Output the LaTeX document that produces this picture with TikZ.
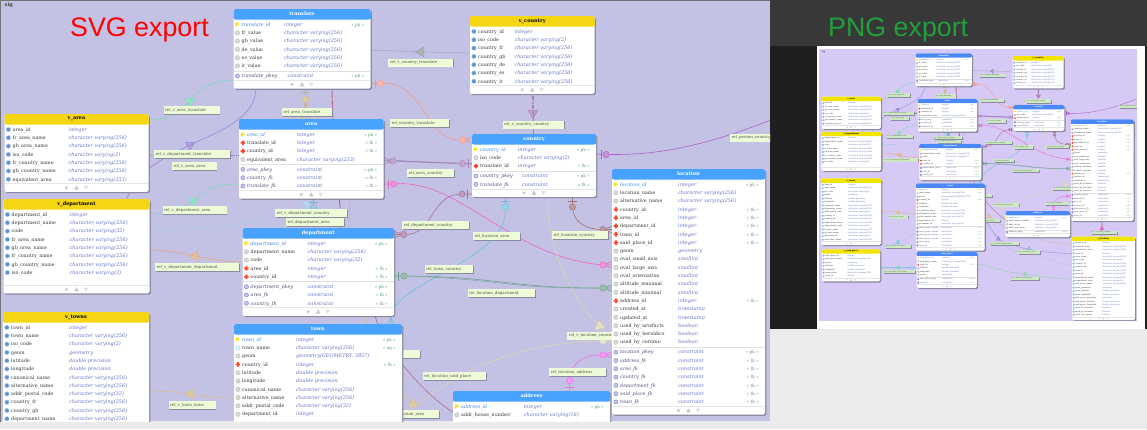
\documentclass[tikz,border=0pt]{standalone}
\usepackage{fontspec}
\setmainfont{DejaVu Serif}
\newfontfamily\bigf{Liberation Sans}
\usetikzlibrary{shapes.geometric,shadows}
\catcode`\_=12
\pgfdeclarelayer{tb}
\pgfsetlayers{main,tb}
\definecolor{cMint}{HTML}{7FDAB8}\definecolor{cPur}{HTML}{9B86D8}\definecolor{cTan}{HTML}{C8B87C}
\definecolor{cGT}{HTML}{8FA0A0}\definecolor{cSal}{HTML}{F29A88}\definecolor{cCrim}{HTML}{B85078}
\definecolor{cTn}{HTML}{D9B878}\definecolor{cTeal}{HTML}{6FB4C8}\definecolor{cLB}{HTML}{A9C9EC}
\definecolor{cMv}{HTML}{A883B8}\definecolor{cBP}{HTML}{7F80D0}\definecolor{cPk}{HTML}{EE62C8}
\definecolor{cDM}{HTML}{A06F9A}\definecolor{cCy}{HTML}{62C4E4}\definecolor{cBr}{HTML}{A07078}
\definecolor{cBg}{HTML}{DCD9A8}\definecolor{cGn}{HTML}{6F9F88}\definecolor{cBh}{HTML}{D8D8B4}
\definecolor{cMg}{HTML}{F26CEC}\definecolor{cCm}{HTML}{B06A90}\definecolor{cOr}{HTML}{E8A880}
\definecolor{cTt}{HTML}{D8BC88}\definecolor{cPp}{HTML}{B060C8}\definecolor{cSg}{HTML}{80D8A0}
\definecolor{nmC}{HTML}{3A3A3A}\definecolor{pkC}{HTML}{3F86E8}\definecolor{ctC}{HTML}{50507A}
\definecolor{tyC}{HTML}{6474C4}\definecolor{kdC}{HTML}{5F9F6F}\definecolor{ftC}{HTML}{C8C8C8}
\definecolor{shC}{HTML}{8A8AA0}\definecolor{vIc}{HTML}{5B93D6}\definecolor{pngT}{HTML}{1FA03C}
\tikzset{
 tblbody/.style={rectangle,fill=white,rounded corners=1.5pt,inner sep=0pt,outer sep=0pt,anchor=north west,
   general shadow={shadow xshift=1.3pt,shadow yshift=-1.3pt,fill=shC}},
 hdrbar/.style={rectangle,rounded corners=1.5pt,inner sep=0pt,outer sep=0pt,anchor=north west,minimum height=10.5pt},
 ttl/.style={font=\fontsize{5}{6}\selectfont\bfseries,inner sep=0pt},
 cname/.style={font=\fontsize{4.8}{5}\selectfont,inner sep=0pt,anchor=base west,text=nmC},
 ctype/.style={font=\fontsize{4.95}{5}\selectfont\itshape,inner sep=0pt,anchor=base west,text=tyC},
 ckind/.style={font=\fontsize{4.2}{5}\selectfont,inner sep=0pt,anchor=base east,text=kdC},
 rlabel/.style={rectangle,fill=lblC,inner xsep=1.5pt,inner ysep=0pt,outer sep=0pt,anchor=north west,minimum height=8pt,
   align=left,font=\fontsize{4}{5}\selectfont,text=lblT,
   general shadow={shadow xshift=.9pt,shadow yshift=-.9pt,fill=shC}},
 rcirc/.style={circle,minimum size=6.4pt,inner sep=0pt,line width=.4pt},
 rtick/.style={rectangle,inner sep=0pt,minimum size=.8pt},
 rtri/.style={regular polygon,regular polygon sides=3,minimum size=11pt,inner sep=0pt,line width=.5pt},
}
% relationship parts
\newcommand\Rc[4]{\node[rcirc,draw=#4,fill=#4!70!white] (#1) at (#2,#3) {};}
\newcommand\Rv[4]{\node[rtick,fill=#4,minimum height=9pt] (#1) at (#2,#3) {};}
\newcommand\Rh[4]{\node[rtick,fill=#4,minimum width=9pt] (#1) at (#2,#3) {};}
\newcommand\Rt[5]{\node[rtri,draw=#5,fill=#5!75!white,shape border rotate=#4] (#1) at (#2,#3) {};}
\newcommand\crowh[4]{\pgfmathsetmacro\ya{#4-3.2}\pgfmathsetmacro\yb{#4+3.2}%
  \draw[cn,#1] (#2) -- (#3 |- 0,\ya) (#2) -- (#3 |- 0,#4) (#2) -- (#3 |- 0,\yb);}
\newcommand\crowv[4]{\pgfmathsetmacro\ya{#4-3.2}\pgfmathsetmacro\yb{#4+3.2}%
  \draw[cn,#1] (#2) -- (\ya,0 |- #3) (#2) -- (#4,0 |- #3) (#2) -- (\yb,0 |- #3);}
\newcommand\rlab[5]{\pgfmathsetmacro\lw{#3-#2-3}\node[rlabel,text width=\lw pt] (#1) at (#2,#4) {#5};}
% icons
\newcommand\icok[2]{\fill[yellow!85!orange] (#1-2,#2-1.8)--(#1+.2,#2-1.8)--(#1+2.4,#2)--(#1+.2,#2+.3)--(#1-1,#2+1.9)--(#1-2,#2+1.9)--cycle;}
\newcommand\icoc[2]{\filldraw[fill=black!14,draw=black!32,line width=.3pt] (#1,#2) circle[radius=2.2];}
\newcommand\icou[2]{\filldraw[fill=blue!10!cyan!14,draw=cLB,line width=.4pt] (#1,#2) circle[radius=2.2];}
\newcommand\icof[2]{\fill[red!70!orange!85!white] (#1-2.3,#2-.9) rectangle (#1+2.3,#2+.9) (#1-.9,#2-2.3) rectangle (#1+.9,#2+2.3);}
\newcommand\icov[2]{\filldraw[fill=vIc,draw=cLB,line width=.4pt] (#1,#2) circle[radius=2.2];}
\newcommand\icot[2]{\filldraw[fill=cBP!45!white,draw=cBP,line width=.4pt] (#1,#2) circle[radius=2.1];}
\newcommand\nmfk{\color{pkC}\itshape}\newcommand\nmfc{}\newcommand\nmfu{}\newcommand\nmff{}\newcommand\nmfv{}
\newcommand\nmft{\color{ctC}\itshape}
\newcommand\kndp{« pk »}\newcommand\kndf{« fk »}\newcommand\kndu{« uq »}\newcommand\kndk{« ck »}
\newcommand\cv[1]{character varying(#1)}
\newcommand\dbl{double precision}
\newcommand\geo{geometry(GEOMETRY, 3857)}
\newcommand\tchdrB{white}\newcommand\tchdrY{black}
\def\parsetc#1,#2,#3,#4\relax{\def\tx{#1}\def\cx{#2}\def\nc{#3}\def\mc{#4}}
\newif\ifthumb
% name,x,y,w,title,hdrcolor,typeX/consX/ncols/ncons,cols,cons
\newcommand\tbl[9]{%
 \parsetc#7\relax
 \ifthumb\def\rlim{9999}\else\def\rlim{420}\fi
 \pgfmathsetmacro\hh{15.5+8.3*(\nc+\mc-1)+12.5+(\mc>0?1.7:0)}%
 \pgfmathsetmacro\xr{#2+#4-6}\pgfmathsetmacro\xc{#2+#4/2}%
 \node[tblbody,minimum width=#4pt,minimum height=\hh pt] (#1) at (#2,#3) {};
 \node[hdrbar,fill=#6,minimum width=#4pt] (#1-hd) at (#2,#3) {};
 \fill[#6] (#2,#3+5) rectangle (#2+#4,#3+10);
 \node[ttl,text=\csname tc#6\endcsname] (#1-ti) at (\xc,#3+5.1) {#5};
 \foreach \ic/\nm/\ty/\kd [count=\ri from 0] in {#8}{%
   \pgfmathsetmacro\ry{#3+15.5+8.3*\ri}\pgfmathsetmacro\rb{\ry+1.7}%
   \pgfmathtruncatemacro\rsk{\ry>\rlim?1:0}%
   \ifnum\rsk=0
   \csname ico\ic\endcsname{#2+3.9}{\ry}%
   \node[cname] (#1-n\ri) at (#2+8,\rb) {\csname nmf\ic\endcsname\nm};
   \node[ctype] (#1-y\ri) at (#2+\tx,\rb) {\ty};
   \if\kd n\else\node[ckind] (#1-k\ri) at (\xr,\rb) {\csname knd\kd\endcsname};\fi
   \fi
 }%
 \pgfmathsetmacro\yl{#3+15.5+8.3*(\nc-1)}%
 \ifnum\mc>0
  \draw[black!12,line width=.6pt] (#2+.5,\yl+5) -- (#2+#4-.5,\yl+5);
  \foreach \ic/\nm/\ty/\kd [count=\ri from 0] in {#9}{%
   \pgfmathsetmacro\ry{#3+15.5+8.3*(\nc+\ri)+1.7}\pgfmathsetmacro\rb{\ry+1.7}%
   \pgfmathtruncatemacro\rsk{\ry>\rlim?1:0}%
   \ifnum\rsk=0
   \csname ico\ic\endcsname{#2+3.9}{\ry}%
   \node[cname] (#1-cn\ri) at (#2+8,\rb) {\csname nmf\ic\endcsname\nm};
   \node[ctype] (#1-cy\ri) at (#2+\cx,\rb) {\ty};
   \node[ckind] (#1-ck\ri) at (\xr,\rb) {\csname knd\kd\endcsname};
   \fi
  }%
  \pgfmathsetmacro\yl{#3+15.5+8.3*(\nc+\mc-1)+1.7}%
 \fi
 \draw[black!10,line width=.4pt] (#2+.5,\yl+4.3) -- (#2+#4-.5,\yl+4.3);
 \pgfmathsetmacro\yf{\yl+8.5}%
 \fill[ftC] (\xc-10,\yf) circle[radius=1.6];
 \fill[ftC] (\xc-2.4,\yf+1.9)--(\xc+2.4,\yf+1.9)--(\xc,\yf-2.2)--cycle;
 \fill[ftC!55!white] (\xc+7,\yf-1.9)--(\xc+11.8,\yf-1.9)--(\xc+9.4,\yf+2.2)--cycle;
}
\newcommand\tables{%
 \tbl{translate}{233.5}{9}{137}{translate}{hdrB}{50.5,54,6,1}
  {k/translate_id/integer/p,c/fr_value/\cv{256}/n,c/gb_value/\cv{256}/n,c/de_value/\cv{256}/n,c/es_value/\cv{256}/n,c/it_value/\cv{256}/n}
  {t/translate_pkey/constraint/p}
 \tbl{v_area}{4.5}{114}{144}{v_area}{hdrY}{64,64,7,0}
  {v/area_id/integer/n,v/fr_area_name/\cv{256}/n,v/gb_area_name/\cv{256}/n,v/iso_code/\cv{2}/n,v/fr_country_name/\cv{256}/n,v/gb_country_name/\cv{256}/n,v/equivalent_area/\cv{233}/n}{}
 \tbl{v_department}{3.5}{199}{146}{v_department}{hdrY}{66,66,9,0}
  {v/department_id/integer/n,v/department_name/\cv{256}/n,v/code/\cv{32}/n,v/fr_area_name/\cv{256}/n,v/gb_area_name/\cv{256}/n,v/fr_country_name/\cv{256}/n,v/gb_country_name/\cv{256}/n,v/iso_code/\cv{2}/n}{}
 \tbl{area}{239}{119}{144.5}{area}{hdrB}{57.7,57.7,4,3}
  {k/area_id/integer/p,f/translate_id/integer/f,f/country_id/integer/f,c/equivalent_area/\cv{233}/n}
  {t/area_pkey/constraint/p,t/country_fk/constraint/f,t/translate_fk/constraint/f}
 \tbl{department}{242.5}{228}{151.5}{department}{hdrB}{65,65,5,3}
  {k/department_id/integer/p,c/department_name/\cv{256}/n,c/code/\cv{32}/n,f/area_id/integer/f,f/country_id/integer/f}
  {t/department_pkey/constraint/p,t/area_fk/constraint/f,t/country_fk/constraint/f}
 \tbl{v_towns}{3}{312}{146}{v_towns}{hdrY}{66,66,17,0}
  {v/town_id/integer/n,v/town_name/\cv{256}/n,v/iso_code/\cv{2}/n,v/geom/geometry/n,v/latitude/\dbl/n,v/longitude/\dbl/n,v/canonical_name/\cv{256}/n,v/alternative_name/\cv{256}/n,v/addr_postal_code/\cv{32}/n,v/country_fr/\cv{256}/n,v/country_gb/\cv{256}/n,v/department_name/\cv{256}/n,v/department_code/\cv{3}/n,v/fr_area_name/\cv{256}/n,v/gb_area_name/\cv{256}/n,v/geonames_id/\cv{32}/n,v/said_place_name/\cv{256}/n}{}
 \tbl{town}{234}{324}{168}{town}{hdrB}{62,62,11,6}
  {k/town_id/integer/p,u/town_name/\cv{256}/u,c/geom/\geo/n,f/country_id/integer/f,c/latitude/\dbl/n,c/longitude/\dbl/n,c/canonical_name/\cv{256}/n,c/alternative_name/\cv{256}/n,c/addr_postal_code/\cv{32}/n,c/department_id/integer/n,c/geonames_id/\cv{32}/n}
  {t/town_geom_check1/constraint/k,t/town_geom_check2/constraint/k,t/town_geom_check3/constraint/k,t/town_geom_check4/constraint/k,t/town_pkey/constraint/p,t/town_fk/constraint/f}
 \tbl{v_country}{470}{16}{124.5}{v_country}{hdrY}{44.3,44.3,7,0}
  {v/country_id/integer/n,v/iso_code/\cv{2}/n,v/country_fr/\cv{256}/n,v/country_gb/\cv{256}/n,v/country_de/\cv{256}/n,v/country_es/\cv{256}/n,v/country_it/\cv{256}/n}{}
 \tbl{country}{472}{134}{124}{country}{hdrB}{45.7,50,3,2}
  {k/country_id/integer/p,c/iso_code/\cv{2}/n,f/translate_id/integer/f}
  {t/country_pkey/constraint/p,t/translate_fk/constraint/f}
 \tbl{location}{612}{169}{153}{location}{hdrB}{66,66,20,7}
  {k/location_id/integer/p,c/location_name/\cv{256}/n,c/alternative_name/\cv{256}/n,f/country_id/integer/f,f/area_id/integer/f,f/department_id/integer/f,f/town_id/integer/f,f/said_place_id/integer/f,c/geom/geometry/n,c/oval_small_axis/smallint/n,c/oval_large_axis/smallint/n,c/oval_orientation/smallint/n,c/altitude_maximal/smallint/n,c/altitude_minimal/smallint/n,f/address_id/integer/f,c/created_at/timestamp/n,c/updated_at/timestamp/n,c/used_by_artefacts/boolean/n,c/used_by_heraldics/boolean/n,c/used_by_cornmo/boolean/n}
  {t/location_pkey/constraint/p,t/address_fk/constraint/f,t/area_fk/constraint/f,t/country_fk/constraint/f,t/department_fk/constraint/f,t/said_place_fk/constraint/f,t/town_fk/constraint/f}
 \tbl{address}{453}{391}{157}{address}{hdrB}{70.7,70.7,4,1}
  {k/address_id/integer/p,c/addr_house_number/\cv{16}/n,c/addr_street/\cv{128}/n,c/addr_post_town/\cv{32}/n}
  {t/address_pkey/constraint/p}
 \ifthumb
 \tbl{v_location}{615}{453}{153}{v_location}{hdrY}{74,74,22,0}
  {v/location_id/integer/n,v/location_name/\cv{256}/n,v/alternative_name/\cv{256}/n,v/town_id/integer/n,v/town_name/\cv{256}/n,v/iso_code/\cv{2}/n,v/country_fr/\cv{256}/n,v/country_gb/\cv{256}/n,v/area_fr/\cv{256}/n,v/area_gb/\cv{256}/n,v/department_name/\cv{256}/n,v/department_code/\cv{3}/n,v/said_place_name/\cv{256}/n,v/town_geometry/geometry/n,v/town_latitude/\dbl/n,v/town_longitude/\dbl/n,v/said_place_geometry/geometry/n,v/said_place_latitude/\dbl/n,v/said_place_longitude/\dbl/n,v/used_by_artefacts/boolean/n,v/used_by_heraldics/boolean/n,v/used_by_cornmo/boolean/n}{}
 \tbl{v_said_place}{5}{483.5}{142}{v_said_place}{hdrY}{62,62,7,0}
  {v/said_place_id/integer/n,v/said_place_name/\cv{256}/n,v/geom/geometry/n,v/latitude/\dbl/n,v/longitude/\dbl/n,v/town_name/\cv{256}/n,v/town_id/integer/n}{}
 \tbl{said_place}{236}{489}{147}{said_place}{hdrB}{62,62,6,2}
  {k/said_place_id/integer/p,c/said_place_name/\cv{256}/n,f/town_id/integer/f,c/latitude/\dbl/n,c/longitude/\dbl/n,c/geom/geometry/n}
  {t/said_place_pkey/constraint/p,t/town_fk/constraint/f}
 \fi
}
\newcommand\connectors{%
 % v_area - translate
 \Rt{t1}{190}{101}{180}{cMint}
 \draw[cn,cMint] (translate.west |- 0,80) .. controls (208,82) and (198,90) .. (t1.center) .. controls (180,112) and (168,120) .. (v_area.east |- 0,120);
 % v_department - translate
 \Rt{t2}{190}{145}{180}{cPur}
 \draw[cn,cPur] (256,0 |- translate.south) .. controls (255,118) and (222,130) .. (t2.center) .. controls (168,156) and (135,170) .. (127,0 |- v_department.north);
 % area - translate
 \Rh{b3}{305.5}{92}{cTan}\Rc{c3}{305.5}{99}{cTan}
 \draw[cn,cTan] (305.5,0 |- translate.south) -- (c3);\crowv{cTan}{c3}{area.north}{305.5}
 % v_country - translate
 \Rt{t4}{421}{52}{90}{cGT}
 \draw[cn,cGT,dashed,dash pattern=on 1.5pt off .8pt] (v_country.west |- 0,53) -- (t4.center) -- (translate.east |- 0,50);
 % country - translate
 \Rv{b5}{375}{83.5}{cSal}\Rc{c5}{380.5}{83.5}{cSal}\Rc{d5}{462.5}{140}{cSal}
 \draw[cn,cSal] (translate.east |- 0,83.5) -- (c5) .. controls (425,83) and (425,140) .. (d5);\crowh{cSal}{d5}{country.west}{140}
 % department - translate
 \draw[cn,cCrim,dashed,dash pattern=on 1.2pt off .6pt,line width=.9pt] (332,0 |- translate.south) .. controls (333,150) and (340,190) .. (341,0 |- department.north);
 % department - area
 \draw[cn,cTn,dashed,dash pattern=on 1.2pt off .6pt] (349.5,0 |- area.south) -- (349.5,0 |- department.north);
 % v_department - country
 \Rt{t7}{307}{204}{180}{cLB}
 \draw[cn,cLB] (v_department.east |- 0,229) .. controls (205,232) and (275,222) .. (t7.center) .. controls (330,190) and (400,178) .. (country.west |- 0,175);
 % department - area (teal)
 \Rh{b8}{313.5}{202}{cTeal}\Rc{c8}{313.5}{208}{cTeal}
 \draw[cn,cTeal] (313.5,0 |- area.south) -- (c8) -- (313.5,0 |- department.north);
 % v_department - area
 \Rt{t9}{193.5}{201}{180}{cMint}
 \draw[cn,cMint] (area.west |- 0,184) .. controls (215,184) and (205,190) .. (t9.center) .. controls (180,210) and (165,214) .. (v_department.east |- 0,214);
 % v_area - area
 \draw[cn,cBP,dashed,dash pattern=on 1.5pt off .8pt,line width=1pt] (v_area.east |- 0,155) -- (area.west |- 0,155);
 \draw[cn,cBP,dashed,dash pattern=on 1.5pt off .8pt] (area.east |- 0,160) -- (country.west |- 0,164);
 % area - country
 \Rc{c10}{393}{161}{cMv}\Rc{d10}{462.5}{163.5}{cMv}\Rv{b10}{468}{163.5}{cMv}
 \draw[cn,cMv,line width=1pt] (c10) -- (d10) -- (country.west |- 0,163.5);\crowh{cMv}{c10}{area.east}{161}
 % location - area
 \Rv{b11}{388}{184}{cPk}\Rc{c11}{393.5}{184}{cPk}\Rc{d11}{603}{265}{cPk}
 \draw[cn,cPk] (area.east |- 0,184) -- (c11) .. controls (460,180) and (510,256) .. (d11);\crowh{cPk}{d11}{location.west}{265}
 % department - country
 \Rv{b12}{467}{194}{cDM}\Rc{c12}{462}{194}{cDM}\Rc{d12}{403.7}{234.5}{cDM}
 \draw[cn,cDM] (country.west |- 0,194) -- (c12) .. controls (432,196) and (432,234) .. (d12);\crowh{cDM}{d12}{department.east}{234.5}
 % town - country (cyan)
 \Rh{b13}{505.5}{201}{cCy}\Rc{c13}{505.5}{207}{cCy}
 \draw[cn,cCy] (505.5,0 |- country.south) -- (c13);
 \coordinate (e13) at (391,318);
 \draw[cn,cCy] (c13) .. controls (505,262) and (395,280) .. (e13);\crowv{cCy}{e13}{town.north}{391}
 % location - country
 \Rh{b14}{572.5}{201}{cBr}\Rc{c14}{572.5}{207}{cBr}\Rc{d14}{603}{229.5}{cBr}
 \draw[cn,cBr] (572.5,0 |- country.south) -- (c14) .. controls (575,225) and (590,229) .. (d14);\crowh{cBr}{d14}{location.west}{229.5}
 % v_location - country
 \Rt{t15}{599.5}{326}{130}{cBg}
 \draw[cn,cBg] (547,0 |- country.south) .. controls (548,250) and (572,300) .. (t15.center) -- (location.west |- 0,338);
 % location - department
 \Rv{b16}{398.5}{276}{cGn}\Rc{c16}{404}{276}{cGn}\Rc{d16}{603}{288}{cGn}
 \draw[cn,cGn] (department.east |- 0,276) -- (c16) .. controls (500,277) and (510,288) .. (d16);
 \draw[cn,cGn!70!cLB] (c16) .. controls (500,279) and (510,289) .. (d16);\crowh{cGn}{d16}{location.west}{288}
 % location - said_place
 \Rc{c17}{603}{341}{cBh}
 \coordinate (e17) at (390,432);
 \draw[cn,cBh] (c17) .. controls (500,343) and (430,385) .. (e17);\crowh{cBh}{c17}{location.west}{341}
 % location - address
 \Rc{c18}{603}{355}{cMg}\Rc{d18}{569.7}{380.5}{cMg}\Rh{b18}{569.7}{387}{cMg}
 \draw[cn,cMg] (c18) .. controls (585,355) and (572,362) .. (d18) -- (569.7,0 |- address.north);\crowh{cMg}{c18}{location.west}{355}
 % v_department - department
 \Rt{t19}{195}{256}{-25}{cOr}
 \draw[cn,cOr] (v_department.east |- 0,250) .. controls (170,250) and (185,254) .. (t19.center) .. controls (210,259) and (225,262) .. (department.west |- 0,262);
 % v_towns - town
 \Rt{t20}{190.5}{394}{-25}{cTt}
 \draw[cn,cTt] (v_towns.east |- 0,391) .. controls (165,391) and (178,392) .. (t20.center) .. controls (205,397) and (220,398) .. (town.west |- 0,398);
 % v_country - country
 \Rt{t21}{533}{113}{180}{cMv}
 \draw[cn,cMv,dashed,dash pattern=on 1.2pt off .6pt,line width=1.5pt] (533,0 |- v_country.south) -- (t21.center);
 \draw[cn,cMv] (t21.center) -- (533,0 |- country.north);
 % person - country
 \Rv{b22}{601}{154}{cPp}\Rc{c22}{606}{154.5}{cPp}
 \coordinate (e22) at (776,118);
 \draw[cn,cPp] (country.east |- 0,154) -- (c22) .. controls (660,155) and (705,146) .. (e22);
 % town - address etc.
 \draw[cn,cCm] (375,0 |- department.south) .. controls (385,350) and (425,395) .. (address.west |- 0,412);
 \draw[cn,cTn] (365,0 |- department.south) -- (368,0 |- town.north);
 \Rt{t23}{413}{404}{130}{cTt}
 \coordinate (e23) at (402,392);
 \ifthumb
  \draw[cn,cTt] (e23) -- (t23.center) .. controls (450,440) and (540,465) .. (v_location.west |- 0,473);
  \Rt{t24}{435}{458.5}{0}{cBP}
  \draw[cn,cPur] (town.east |- 0,410) .. controls (415,430) and (425,445) .. (t24.center) .. controls (470,480) and (540,492) .. (v_location.west |- 0,494);
  \Rt{t25}{510}{483}{0}{cTeal}
  \draw[cn,cLB] (town.east |- 0,420) .. controls (440,470) and (470,505) .. (t25.center) (t25.center) .. controls (540,505) and (580,518) .. (v_location.west |- 0,523);
  \Rt{t26}{500}{544}{0}{cSg}
  \draw[cn,cSg] (said_place.east |- 0,518) .. controls (430,530) and (460,540) .. (t26.center) .. controls (540,550) and (580,554) .. (v_location.west |- 0,556);
  \Rt{t27}{688}{433}{0}{cPk}
  \draw[cn,cCm,line width=.7pt] (688,0 |- location.south) -- (t27.center) -- (688,0 |- v_location.north);
  \Rt{t28}{190}{466.5}{0}{cCy}
  \draw[cn,cLB] (v_said_place.east |- 0,488) .. controls (165,478) and (175,472) .. (t28.center) .. controls (205,460) and (220,452) .. (town.west |- 0,445);
  \Rt{t29}{191}{528}{-30}{cSg}
  \draw[cn,cCy,line width=.7pt] (v_said_place.east |- 0,528) -- (t29.center) -- (said_place.west |- 0,528);
 \else
  \draw[cn,cTt] (e23) -- (t23.center);
 \fi
 % labels
 \rlab{l1}{163.5}{219.5}{106}{rel_v_area_translate}
 \rlab{l2}{282}{332}{108}{rel_area_translate}
 \rlab{l3}{388.3}{452.7}{58.5}{rel_v_country_translate}
 \rlab{l4}{390}{448.7}{119}{rel_country_translate}
 \rlab{l5}{502.7}{564}{120.5}{rel_v_country_country}
 \rlab{l6}{730}{785}{133.5}{rel_person_country}
 \rlab{l7}{154}{230}{150}{rel_v_department_translate}
 \rlab{l8}{172}{216.5}{162}{rel_v_area_area}
 \rlab{l9}{407}{453.7}{169}{rel_area_country}
 \rlab{l10}{162.5}{226.5}{206}{rel_v_department_area}
 \rlab{l11}{275}{347}{209}{rel_v_department_country}
 \rlab{l12}{286}{344}{218}{rel_department_area}
 \rlab{l13}{155}{239}{263}{rel_v_department_department}
 \rlab{l14}{168.5}{215.5}{401}{rel_v_town_town}
 \rlab{l15}{402.3}{468.7}{221.3}{rel_department_country}
 \rlab{l16}{473}{519.7}{232}{rel_location_area}
 \rlab{l17}{552}{608}{231}{rel_location_country}
 \rlab{l18}{424.7}{472.7}{265}{rel_town_country}
 \rlab{l19}{467.7}{535}{289}{rel_location_department}
 \rlab{l20}{422.7}{486}{372}{rel_location_said_place}
 \rlab{l21}{549.3}{606.3}{368}{rel_location_address}
 \rlab{l22}{567.3}{641}{331.5}{rel_v_location_country}
 \rlab{l23}{358}{420}{350}{rel_town_department}
 \rlab{l24}{384}{438.7}{410}{rel_v_location_area}
 \ifthumb
 \rlab{l25}{661}{724}{439}{rel_v_location_location}
 \rlab{l26}{414}{486}{466}{rel_v_location_department}
 \rlab{l27}{482.4}{537}{486}{rel_v_location_town}
 \rlab{l28}{160}{223}{472}{rel_v_said_place_town}
 \rlab{l29}{155}{231}{534}{rel_v_said_place_said_place}
 \rlab{l30}{465}{535}{550}{rel_v_location_said_place}
 \fi
}
\newcommand\diagram[4]{%
 \fill[bgC] (#1,#2) rectangle (#3,#4);
 \node[inner sep=0pt,anchor=north west,font=\fontsize{5}{6}\selectfont\bfseries,text=black!75] (sg) at (4.5,2.5) {sig};
 \begin{pgfonlayer}{tb}\begin{scope}
  \clip (#1,#2) rectangle (#3,#4);
  \tables
 \end{scope}\end{pgfonlayer}
 \begin{scope}
  \clip (#1,#2) rectangle (#3,#4);
  \connectors
 \end{scope}
}
\begin{document}
\begin{tikzpicture}[x=1pt,y=-1pt]
\useasboundingbox (0,0) rectangle (1147,429);
\fill[black!8] (0,0) rectangle (1147,429);
\fill[black!55] (0,0) rectangle (772,1) (0,0) rectangle (1,422);
\fill[black!78] (770,0) rectangle (1147,46);
\fill[black!88] (770,46) rectangle (1147,329);
\fill[white] (817.3,46) rectangle (1145,329);
% SVG panel
\begin{scope}[name prefix=m-,cn/.style={line width=.6pt}]
 \definecolor{bgC}{HTML}{C3C2E4}\definecolor{hdrB}{HTML}{48A2FF}\definecolor{hdrY}{HTML}{F5D612}
 \definecolor{lblC}{HTML}{EDFBD9}\definecolor{lblT}{HTML}{4A5A3A}
 \thumbfalse
 \diagram{1}{1}{770}{421}
\end{scope}
% PNG panel
\begin{scope}[name prefix=p-,shift={(819.9,49.6)},xscale=.41,yscale=.413,transform shape,cn/.style={line width=.35pt}]
 \definecolor{bgC}{HTML}{D6C9F5}\definecolor{hdrB}{HTML}{4A88F8}\definecolor{hdrY}{HTML}{F2E400}
 \definecolor{lblC}{HTML}{CDE8C4}\definecolor{lblT}{HTML}{4A5A3A}
 \thumbtrue
 \diagram{-1.2}{-2}{773}{657}
\end{scope}
\node[font=\bigf\fontsize{26.8}{30}\selectfont,text=red,inner sep=0pt,anchor=base west] (svgt) at (70,36.5) {SVG export};
\node[font=\bigf\fontsize{26.8}{30}\selectfont,text=pngT,inner sep=0pt,anchor=base west] (pngt) at (828,36.5) {PNG export};
\end{tikzpicture}
\end{document}
